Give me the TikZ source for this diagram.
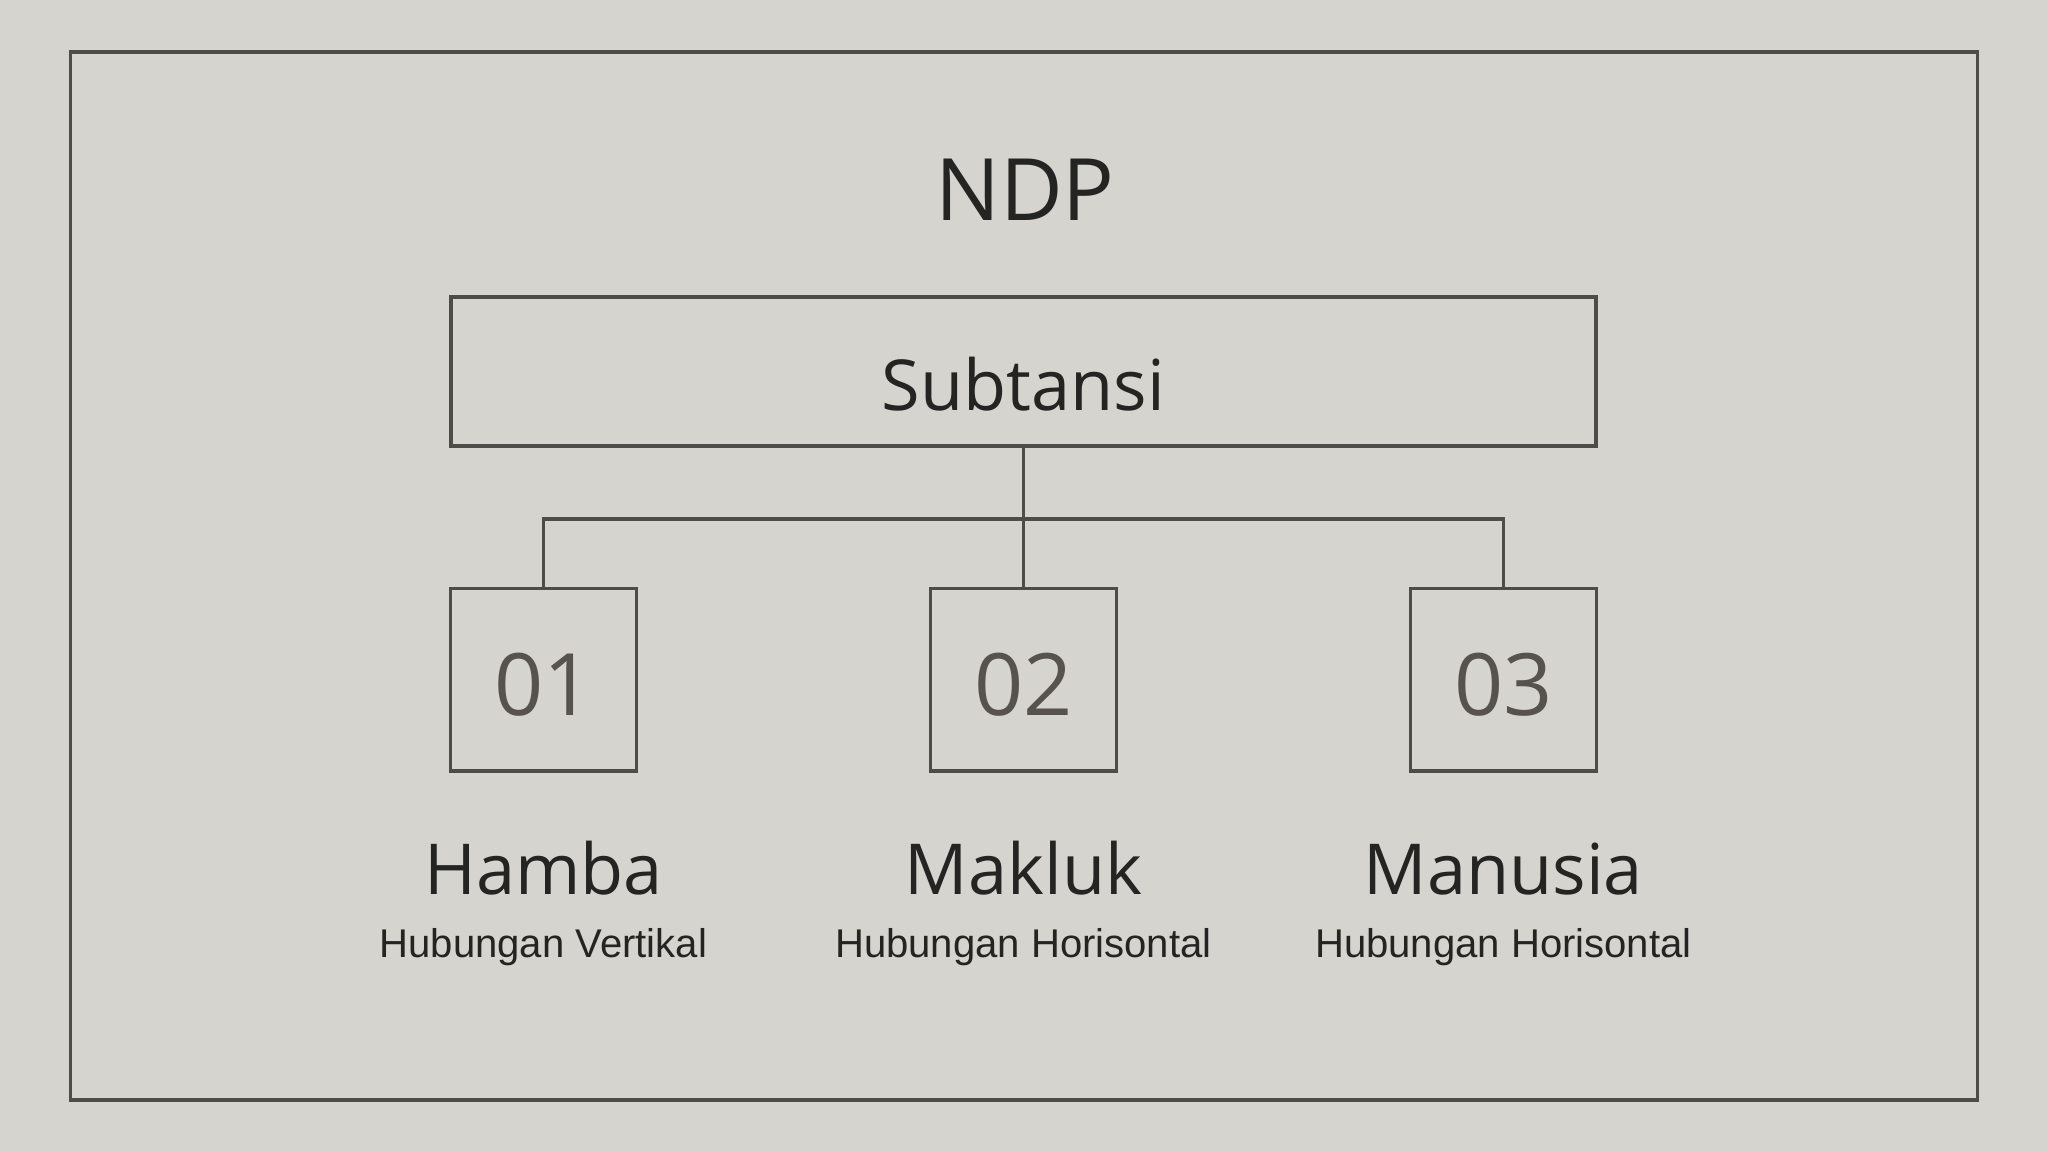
\documentclass[tikz,border=0pt]{standalone}
\usepackage{fontspec}
\setmainfont{Open Sans}
\newfontfamily\arialfont{Liberation Sans}
\usepackage{xcolor}
\usetikzlibrary{positioning}
\definecolor{paper}{RGB}{214,212,207}
\definecolor{ink}{RGB}{36,36,35}
\definecolor{frame}{RGB}{78,76,73}
\definecolor{digit}{RGB}{86,83,79}

\begin{document}
\begin{tikzpicture}[
    level 1/.style={sibling distance=4.8cm, level distance=3.08cm},
    edge from parent/.style={draw=frame, line width=1.05pt},
    edge from parent path={(\tikzparentnode.south) -- ++(0,-0.713) -| (\tikzchildnode.north)},
    mainbox/.style={draw=frame, line width=1.05pt, minimum width=11.45cm, minimum height=1.487cm, text height=0.78cm, text depth=0pt, text=ink, font=\fontsize{20}{24}\selectfont},
    numbox/.style={draw=frame, line width=1.05pt, minimum width=1.86cm, minimum height=1.824cm, inner sep=0pt, text height=0.71cm, text depth=0pt, text=digit, font=\fontsize{24.5}{29}\selectfont},
    title/.style={anchor=base, text=ink, font=\fontsize{20}{24}\selectfont},
    note/.style={anchor=base, text=ink, font=\arialfont\fontsize{11.4}{13}\selectfont}
]
\useasboundingbox (0,0) rectangle (20.48,11.52);
\fill[paper] (0,0) rectangle (20.48,11.52);
\draw[frame, line width=1.05pt] (0.705,0.523) rectangle (19.774,10.998);

\node[anchor=base, text=ink, font=\fontsize{24.5}{29}\selectfont] (ndp) at (10.25,9.313) {NDP};

\node[mainbox] (subst) at (10.234,7.8035) {Subtansi}
    child{node[numbox] (n1) {01}}
    child{node[numbox] (n2) {02}}
    child{node[numbox] (n3) {03}};

% labels under the boxes
\node[below=1.216cm of n1.south, title] (t1) {Hamba};
\node[below=1.216cm of n2.south, title] (t2) {Makluk};
\node[below=1.216cm of n3.south, title] (t3) {Manusia};
\node[below=0.637cm of t1.base, note] (s1) {Hubungan Vertikal};
\node[below=0.637cm of t2.base, note] (s2) {Hubungan Horisontal};
\node[below=0.637cm of t3.base, note] (s3) {Hubungan Horisontal};

\end{tikzpicture}
\end{document}
